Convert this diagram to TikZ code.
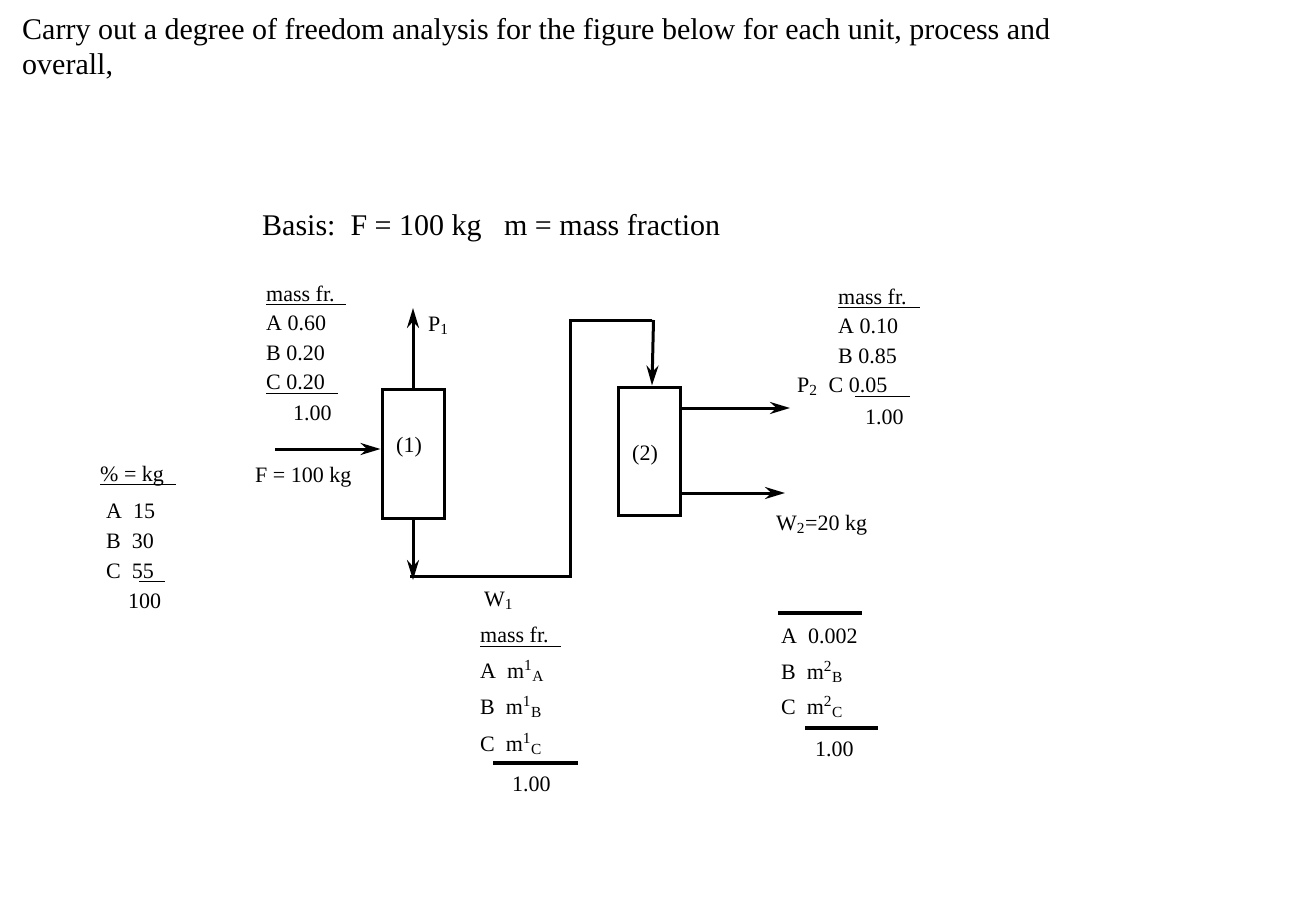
\documentclass[tikz,border=0pt]{standalone}
\usepackage{fontspec}
\setmainfont{Liberation Serif}
\usetikzlibrary{arrows.meta}
\begin{document}
\begin{tikzpicture}[x=1pt,y=-1pt,
  flow/.style={line width=3pt},
  arr/.style={line width=3pt,-{Stealth[length=20pt,width=12pt]}},
  unitbox/.style={draw,line width=3pt,minimum width=62pt,minimum height=128pt,inner sep=0pt},
  lbl/.style={inner sep=0pt,anchor=base west,font=\fontsize{22}{26}\selectfont},
  ttl/.style={inner sep=0pt,anchor=base west,font=\fontsize{30}{34}\selectfont},
  uline/.style={line width=1pt},
  bar/.style={line width=3.5pt}]
\useasboundingbox (0,0) rectangle (1290,912);
\node[ttl] (t1) at (22,40) {Carry out a degree of freedom analysis for the figure below for each unit, process and};
\node[ttl] (t2) at (22,75) {overall,};
\node[ttl] (basis) at (262,236) {Basis:\ \ F = 100 kg\ \ \ m = mass fraction};
% units
\node[unitbox,minimum height=129pt] (u1) at (413,453.5) {};
\node[unitbox] (u2) at (649.5,451) {};
\node[lbl] (u1l) at (396,452) {(1)};
\node[lbl] (u2l) at (632,460) {(2)};
% feed
\coordinate (fs) at (275,449);
\draw[arr] (fs) -- (u1.west |- fs);
\coordinate (p1e) at (413,308);
\draw[arr] (u1.north) -- (p1e);
\coordinate (w1e) at (413,580);
\draw[arr] (u1.south) -- (w1e);
\coordinate (c1) at (410,576);
\coordinate (c2) at (570,576);
\coordinate (c3) at (570,320);
\coordinate (c4) at (652,320);
\draw[flow] (c1) -- (c2) -- (c3) -- (c4);
\draw[arr] ([xshift=1.5pt]c4) -- (u2.north -| c4);
\coordinate (p2e) at (790,408);
\draw[arr] (u2.east |- p2e) -- (p2e);
\coordinate (w2e) at (785,493);
\draw[arr] (u2.east |- w2e) -- (w2e);
% feed composition
\node[lbl] (fm) at (266,301) {mass fr.};
\draw[uline] (266,304) -- (346,304);
\node[lbl] (fa) at (266,330) {A 0.60};
\node[lbl] (fb) at (266,360) {B 0.20};
\node[lbl] (fc) at (266,389) {C 0.20};
\draw[uline] (266,393) -- (338,393);
\node[lbl] (ft) at (293,420) {1.00};
\node[lbl] (fF) at (255,482) {F = 100 kg};
\node[lbl] (p1) at (428,331) {P\textsubscript{1}};
% left key
\node[lbl] (pk) at (100,481) {\% = kg};
\draw[uline] (100,484) -- (176,484);
\node[lbl] (ka) at (106,518) {A\ \ 15};
\node[lbl] (kb) at (106,548) {B\ \ 30};
\node[lbl] (kc) at (106,578) {C\ \ 55};
\draw[uline] (139,581) -- (165,581);
\node[lbl] (kt) at (128,608) {100};
% P2 composition
\node[lbl] (pm) at (838,304) {mass fr.};
\draw[uline] (838,307) -- (920,307);
\node[lbl] (pa) at (838,333) {A 0.10};
\node[lbl] (pb) at (838,363) {B 0.85};
\node[lbl] (p2) at (797,392) {P\textsubscript{2}\ \ C 0.05};
\draw[uline] (855,396) -- (910,396);
\node[lbl] (pt) at (865,424) {1.00};
\node[lbl] (w2) at (776,530) {W\textsubscript{2}=20 kg};
% W1 composition
\node[lbl] (w1) at (484,606) {W\textsubscript{1}};
\node[lbl] (wm) at (480,642) {mass fr.};
\draw[uline] (480,646) -- (561,646);
\node[lbl] (wa) at (480,678) {A\ \ m\textsuperscript{1}\textsubscript{A}};
\node[lbl] (wb) at (480,714) {B\ \ m\textsuperscript{1}\textsubscript{B}};
\node[lbl] (wc) at (480,751) {C\ \ m\textsuperscript{1}\textsubscript{C}};
\draw[bar] (493,763) -- (578,763);
\node[lbl] (wt) at (512,791) {1.00};
% W2 composition
\draw[bar] (778,613) -- (862,613);
\node[lbl] (va) at (781,643) {A\ \ 0.002};
\node[lbl] (vb) at (781,679) {B\ \ m\textsuperscript{2}\textsubscript{B}};
\node[lbl] (vc) at (781,714) {C\ \ m\textsuperscript{2}\textsubscript{C}};
\draw[bar] (805,728) -- (878,728);
\node[lbl] (vt) at (815,756) {1.00};
\end{tikzpicture}
\end{document}
